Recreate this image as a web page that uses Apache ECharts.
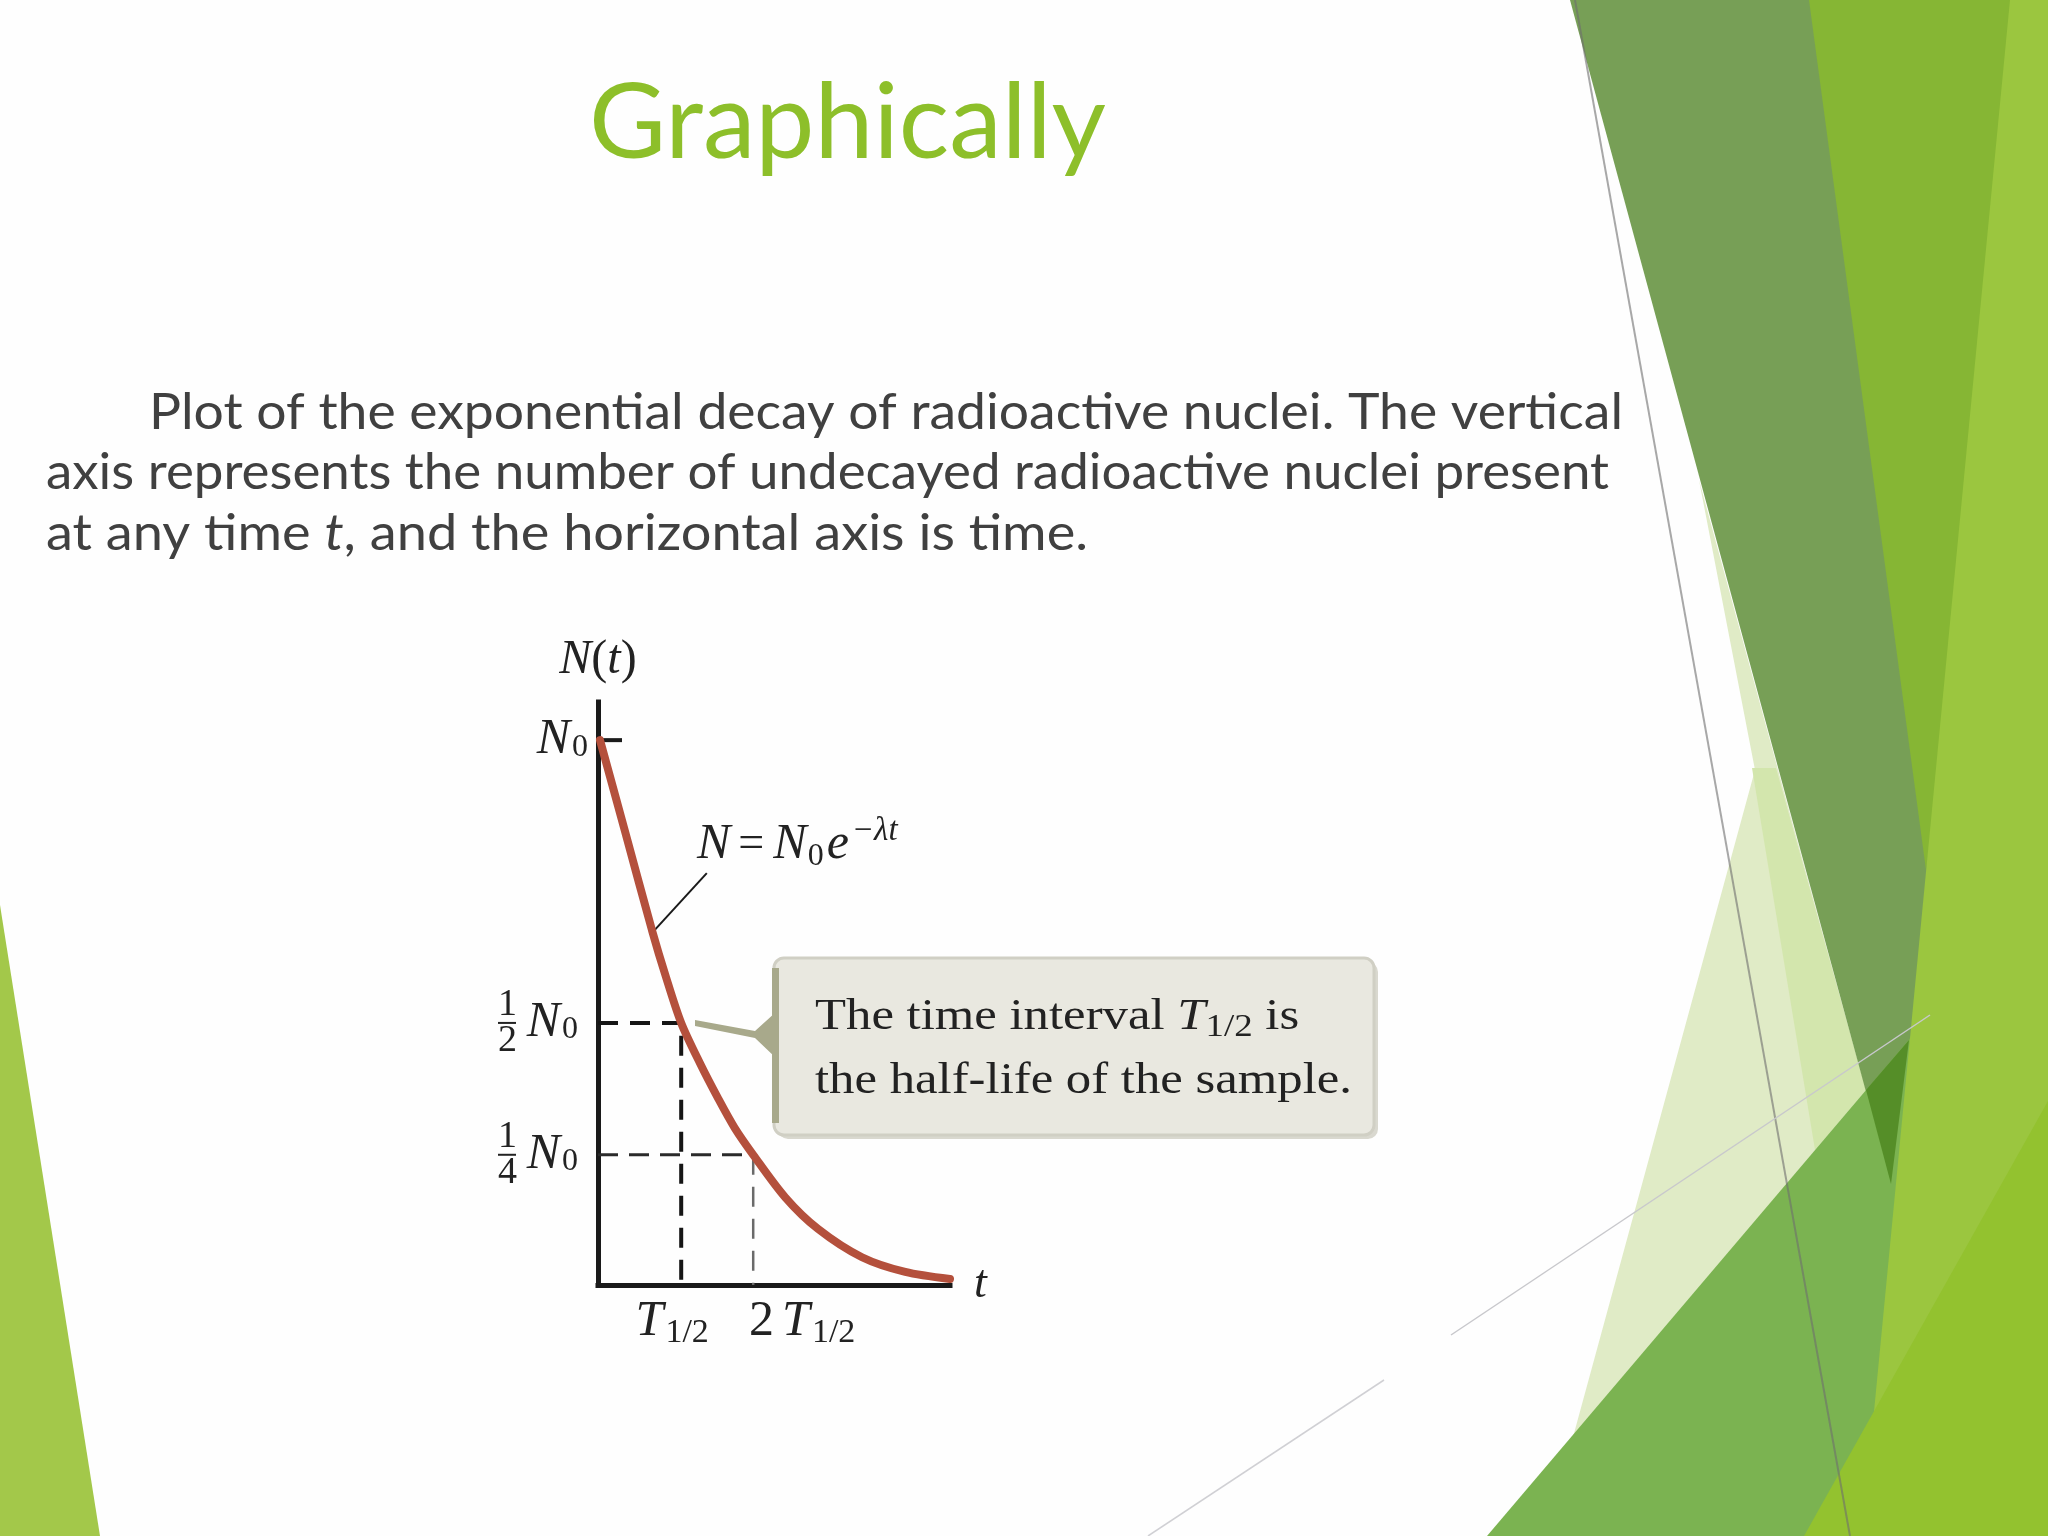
<!DOCTYPE html>
<html>
<head>
<meta charset="utf-8">
<title>Graphically</title>
<script src="https://cdn.jsdelivr.net/npm/echarts@6/dist/echarts.min.js"></script>
<style>
  html, body { margin: 0; padding: 0; background: #fefefe; }
  #main { width: 2048px; height: 1536px; }
</style>
</head>
<body>
<div id="main"></div>
<script>
// decay curve: t in half-life-ish units, N as a fraction of N0
var decayT = [0.025, 0.35, 0.675, 0.85, 1.04, 1.275, 1.50, 1.71, 1.94, 2.34, 2.75, 3.30, 3.84, 4.4];
var decayN = [1.0, 0.826, 0.651, 0.565, 0.481, 0.407, 0.343, 0.288, 0.239, 0.161, 0.103, 0.051, 0.024, 0.011];

// guide points: [t, N]
var halfMark = [1.04, 0.481];
var quarterMark = [1.94, 0.239];
var leaderLine = [[1.36, 0.756], [0.65, 0.642]];

// tick labels
var xLabelValues = [halfMark[0], quarterMark[0]];
var xLabelTexts = ['{T|T}{sub|1/2}{rsp| }', '{lsp| }{two|2}{T|T}{sub|1/2}'];
var yLabelValues = [quarterMark[1], halfMark[1], 1];
var yLabelTexts = [
    '{num|1}{gap| }\n{bar| }{sp| }{N|N}{sub|0}{rp| }\n{num|4}{gap| }',
    '{num|1}{gap| }\n{bar| }{sp| }{N|N}{sub|0}{rp| }\n{num|2}{gap| }',
    '{N|N}{sub|0}'
];

var bodyLines = [
    'Plot of the exponential decay of radioactive nuclei. The vertical',
    'axis represents the number of undecayed radioactive nuclei present'
];
var bodyLast = ['at any time ', 't', ', and the horizontal axis is time.'];
var noteLines = ['The time interval ', 'the half-life of the sample.'];

var serif = "'Liberation Serif', 'DejaVu Serif', serif";
var sans = "Lato, 'Open Sans', sans-serif";
var ink = '#222';

// measure text so the slide text can be squeezed to the width it has on the slide
var mctx = document.createElement('canvas').getContext('2d');
function textWidth(str, font) {
    mctx.font = font;
    return mctx.measureText(str).width;
}

var titleScale = 517 / textWidth('Graphically', '104px ' + sans);
var line1Scale = 1474 / textWidth(bodyLines[0], '50px ' + sans);
var line2Scale = 1563 / textWidth(bodyLines[1], '50px ' + sans);
var line3Scale = 1042 / (textWidth(bodyLast[0] + bodyLast[2], '50px ' + sans) +
    textWidth(bodyLast[1], 'italic 50px ' + sans));
var noteScale = 537 / textWidth(noteLines[1], '44px ' + serif);

function nearest(values, v) {
    var best = 0;
    for (var i = 1; i < values.length; i++) {
        if (Math.abs(values[i] - v) < Math.abs(values[best] - v)) best = i;
    }
    return best;
}
function poly(points, fill) {
    return { type: 'polygon', silent: true, z: 0, shape: { points: points }, style: { fill: fill } };
}
function seg(points, stroke, w) {
    return { type: 'polyline', silent: true, z: 1, shape: { points: points }, style: { stroke: stroke, lineWidth: w, fill: null } };
}
function label(x, y, sx, style) {
    style.x = 0;
    style.y = 0;
    style.align = style.textAlign = 'left';
    style.verticalAlign = style.textVerticalAlign = 'middle';
    return { type: 'text', x: x, y: y, scaleX: sx, z: 10, silent: true, style: style };
}

var xRich = {
    T: { fontSize: 50, fontStyle: 'italic', fontFamily: serif, color: ink },
    two: { fontSize: 50, fontFamily: serif, color: ink, padding: [0, 8, 0, 0] },
    sub: { fontSize: 34, fontFamily: serif, color: ink, padding: [22, 0, 0, 2] },
    lsp: { width: 98 },
    rsp: { width: 18 }
};

// one x axis per tick label, so the two wide labels are never thinned out
function timeAxis(i, main) {
    return {
        type: 'value',
        position: 'bottom',
        offset: 0,
        min: 0,
        max: 4.4,
        name: main ? 't' : '',
        nameLocation: 'end',
        nameGap: 24,
        nameTextStyle: { fontFamily: serif, fontStyle: 'italic', fontSize: 46, color: ink, verticalAlign: 'middle' },
        axisLine: { show: main, lineStyle: { color: '#1a1a1a', width: 5, cap: 'square' } },
        axisTick: { show: false },
        splitLine: { show: false },
        axisLabel: {
            customValues: [xLabelValues[i]],
            showMinLabel: true,
            showMaxLabel: true,
            margin: 9,
            fontSize: 10,
            fontFamily: serif,
            color: ink,
            formatter: function (v) {
                return xLabelTexts[nearest(xLabelValues, v)];
            },
            rich: xRich
        }
    };
}

var chartDom = document.getElementById('main');
var myChart = echarts.init(chartDom);
var option;

option = {
    animation: false,
    backgroundColor: '#fefefe',
    grid: { left: 598, top: 702, width: 352, height: 583 },
    xAxis: [timeAxis(0, true), timeAxis(1, false)],
    yAxis: {
        type: 'value',
        min: 0,
        max: 1.07,
        name: '{N|N}{p|(}{t|t}{p|)}',
        nameLocation: 'end',
        nameGap: 18,
        nameTextStyle: {
            rich: {
                N: { fontSize: 48, fontStyle: 'italic', fontFamily: serif, color: ink },
                t: { fontSize: 48, fontStyle: 'italic', fontFamily: serif, color: ink },
                p: { fontSize: 48, fontFamily: serif, color: ink }
            }
        },
        axisLine: { lineStyle: { color: '#1a1a1a', width: 5, cap: 'square' } },
        axisTick: { show: false },
        splitLine: { show: false },
        axisLabel: {
            customValues: yLabelValues,
            hideOverlap: false,
            showMinLabel: true,
            showMaxLabel: true,
            margin: 10,
            fontSize: 10,
            fontFamily: serif,
            color: ink,
            formatter: function (v) {
                return yLabelTexts[nearest(yLabelValues, v)];
            },
            rich: {
                num: { fontSize: 38, fontFamily: serif, color: ink, lineHeight: 26 },
                gap: { width: 71 },
                bar: { width: 18, height: 2, backgroundColor: ink },
                sp: { width: 10 },
                rp: { width: 10 },
                N: { fontSize: 50, fontStyle: 'italic', fontFamily: serif, color: ink, width: 34, lineHeight: 6 },
                sub: { fontSize: 32, fontFamily: serif, color: ink, width: 18, lineHeight: 2, padding: [14, 0, 0, 0] }
            }
        }
    },
    series: [
        {
            name: 'half-life guide',
            type: 'line',
            symbol: 'none',
            silent: true,
            z: 2,
            data: [[0, halfMark[1]], halfMark, [halfMark[0], 0]],
            lineStyle: { color: '#151515', width: 4, type: [20, 12] }
        },
        {
            name: 'quarter guide',
            type: 'line',
            symbol: 'none',
            silent: true,
            z: 2,
            data: [[0, quarterMark[1]], quarterMark],
            lineStyle: { color: '#2a2a2a', width: 3, type: [20, 11] }
        },
        {
            name: 'two half-lives guide',
            type: 'line',
            symbol: 'none',
            silent: true,
            z: 2,
            data: [quarterMark, [quarterMark[0], 0]],
            lineStyle: { color: '#6a6a6a', width: 2.5, type: [20, 12] }
        },
        {
            name: 'N0 tick',
            type: 'line',
            symbol: 'none',
            silent: true,
            z: 3,
            data: [[0, 1], [0.3, 1]],
            lineStyle: { color: '#1a1a1a', width: 4 }
        },
        {
            name: 'leader',
            type: 'line',
            symbol: 'none',
            silent: true,
            z: 3,
            data: leaderLine,
            lineStyle: { color: '#1a1a1a', width: 2 }
        },
        {
            name: 'N(t)',
            type: 'line',
            symbol: 'none',
            smooth: 0.3,
            silent: true,
            z: 5,
            data: decayT.map(function (t, i) { return [t, decayN[i]]; }),
            lineStyle: { color: '#b4503c', width: 8, cap: 'round' }
        }
    ],
    graphic: [
        // slide decoration
        poly([[0, 905], [100, 1536], [0, 1536]], '#a3c84a'),
        poly([[1699, 480], [1755, 770], [1546, 1536], [1900, 1536], [1891, 1184]], '#e0ebc6'),
        poly([[1752, 768], [1776, 768], [1866, 1090], [1815, 1150]], '#d3e6ad'),
        poly([[1570, 0], [2048, 0], [2048, 600], [1891, 1184]], '#779f56'),
        poly([[1809, 0], [2048, 0], [1926, 870]], '#86b634'),
        poly([[1487, 1536], [2048, 876], [2048, 1536]], '#7bb351'),
        poly([[1866, 1090], [1909, 1040], [1891, 1184]], '#558e28'),
        poly([[2010, 0], [2048, 0], [2048, 1536], [1862, 1536]], '#9bc63f'),
        poly([[1804, 1536], [2048, 1101], [2048, 1536]], '#93c22f'),
        seg([[1575, 0], [1850, 1536]], 'rgba(110,110,110,0.6)', 2),
        seg([[1148, 1536], [1384, 1380]], '#d0d0d4', 1.5),
        seg([[1451, 1335], [1930, 1015]], '#c8c8cc', 1.5),

        // title and caption
        label(589, 124, titleScale, { text: 'Graphically', fontSize: 104, fontFamily: sans, fill: '#8dbf2a' }),
        label(149, 413, line1Scale, { text: bodyLines[0], fontSize: 50, fontFamily: sans, fill: '#404040' }),
        label(46, 473, line2Scale, { text: bodyLines[1], fontSize: 50, fontFamily: sans, fill: '#404040' }),
        label(46, 534, line3Scale, {
            text: '{r|' + bodyLast[0] + '}{i|' + bodyLast[1] + '}{r|' + bodyLast[2] + '}',
            rich: {
                r: { fontSize: 50, fontFamily: sans, fill: '#404040' },
                i: { fontSize: 50, fontFamily: sans, fontStyle: 'italic', fill: '#404040' }
            }
        }),

        // equation label
        label(697, 845, 1, {
            text: '{N|N}{eq|=}{N|N}{sub|0}{e|e}{sup|\u2212\u03bbt}',
            rich: {
                N: { fontSize: 50, fontStyle: 'italic', fontFamily: serif, fill: ink },
                eq: { fontSize: 46, fontFamily: serif, fill: ink, padding: [0, 9, 0, 8] },
                sub: { fontSize: 32, fontFamily: serif, fill: ink, padding: [24, 3, 0, 1] },
                e: { fontSize: 50, fontStyle: 'italic', fontFamily: serif, fill: ink },
                sup: { fontSize: 33, fontStyle: 'italic', fontFamily: serif, fill: ink, padding: [0, 0, 28, 3] }
            }
        }),

        // callout box
        { type: 'rect', silent: true, z: 6, shape: { x: 778, y: 962, width: 600, height: 177, r: 10 }, style: { fill: '#d9d8cf' } },
        { type: 'rect', silent: true, z: 7, shape: { x: 774, y: 958, width: 600, height: 177, r: 10 }, style: { fill: '#e9e8e0', stroke: '#d0cfc4', lineWidth: 3 } },
        { type: 'rect', silent: true, z: 8, shape: { x: 772, y: 968, width: 7, height: 155 }, style: { fill: '#a8a98b' } },
        { type: 'polygon', silent: true, z: 8, shape: { points: [[695, 1020], [755, 1031], [776, 1012], [776, 1058], [755, 1038], [695, 1026]] }, style: { fill: '#a8a98b' } },
        label(815, 1017, noteScale, {
            text: '{r|' + noteLines[0] + '}{i|T}{s|1/2}{r| is}',
            rich: {
                r: { fontSize: 44, fontFamily: serif, fill: ink },
                i: { fontSize: 44, fontStyle: 'italic', fontFamily: serif, fill: ink },
                s: { fontSize: 32, fontFamily: serif, fill: ink, padding: [22, 0, 0, 0] }
            }
        }),
        label(815, 1081, noteScale, { text: noteLines[1], fontSize: 44, fontFamily: serif, fill: ink })
    ]
};

option && myChart.setOption(option);
</script>
</body>
</html>
